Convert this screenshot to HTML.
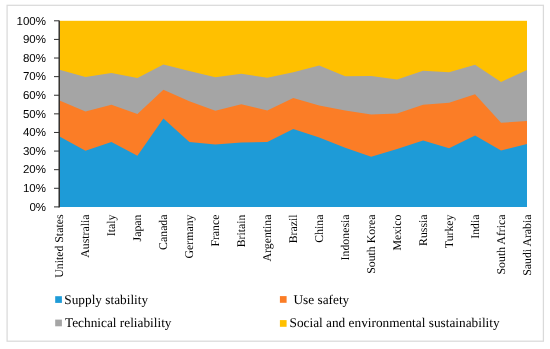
<!DOCTYPE html>
<html><head><meta charset="utf-8"><style>
html,body{margin:0;padding:0;background:#fff;width:550px;height:349px;overflow:hidden}
svg{display:block;will-change:transform}
text{text-rendering:geometricPrecision}
.ss{font-family:"Liberation Sans",sans-serif}
.sf{font-family:"Liberation Serif",serif}
</style></head><body>
<svg width="550" height="349" viewBox="0 0 550 349" xmlns="http://www.w3.org/2000/svg">
<rect x="7.1" y="5.3" width="536.3" height="335.9" fill="#fff" stroke="#DADADA" stroke-width="1.25"/>
<rect x="59.5" y="20.8" width="467.5" height="186.1" fill="#FFC000"/>
<polygon points="59.50,69.80 85.47,76.90 111.44,72.90 137.42,78.00 163.39,64.40 189.36,71.00 215.33,77.30 241.31,73.70 267.28,77.80 293.25,72.30 319.22,65.50 345.19,76.30 371.17,76.10 397.14,79.40 423.11,70.80 449.08,72.30 475.06,64.70 501.03,82.00 527.00,70.00 527,206.9 59.5,206.9" fill="#A5A5A5"/>
<polygon points="59.50,100.40 85.47,111.40 111.44,104.80 137.42,114.00 163.39,89.70 189.36,101.30 215.33,110.80 241.31,104.20 267.28,110.40 293.25,98.10 319.22,105.40 345.19,110.40 371.17,114.60 397.14,113.40 423.11,104.80 449.08,102.80 475.06,94.30 501.03,122.80 527.00,121.10 527,206.9 59.5,206.9" fill="#FB7D26"/>
<polygon points="59.50,136.50 85.47,150.70 111.44,142.00 137.42,155.80 163.39,118.60 189.36,142.00 215.33,144.60 241.31,142.60 267.28,142.10 293.25,128.90 319.22,137.50 345.19,147.70 371.17,156.80 397.14,149.10 423.11,140.50 449.08,148.30 475.06,135.40 501.03,150.50 527.00,144.00 527,206.9 59.5,206.9" fill="#1E9BD7"/>
<line x1="59.2" y1="20.5" x2="59.2" y2="207.4" stroke="#262626" stroke-width="1.4"/>
<line x1="54" y1="206.90" x2="59" y2="206.90" stroke="#303030" stroke-width="1"/>
<text x="46" y="210.60" text-anchor="end" class="ss" font-size="11.5" fill="#000">0%</text>
<line x1="54" y1="188.29" x2="59" y2="188.29" stroke="#303030" stroke-width="1"/>
<text x="46" y="191.99" text-anchor="end" class="ss" font-size="11.5" fill="#000">10%</text>
<line x1="54" y1="169.68" x2="59" y2="169.68" stroke="#303030" stroke-width="1"/>
<text x="46" y="173.38" text-anchor="end" class="ss" font-size="11.5" fill="#000">20%</text>
<line x1="54" y1="151.07" x2="59" y2="151.07" stroke="#303030" stroke-width="1"/>
<text x="46" y="154.77" text-anchor="end" class="ss" font-size="11.5" fill="#000">30%</text>
<line x1="54" y1="132.46" x2="59" y2="132.46" stroke="#303030" stroke-width="1"/>
<text x="46" y="136.16" text-anchor="end" class="ss" font-size="11.5" fill="#000">40%</text>
<line x1="54" y1="113.85" x2="59" y2="113.85" stroke="#303030" stroke-width="1"/>
<text x="46" y="117.55" text-anchor="end" class="ss" font-size="11.5" fill="#000">50%</text>
<line x1="54" y1="95.24" x2="59" y2="95.24" stroke="#303030" stroke-width="1"/>
<text x="46" y="98.94" text-anchor="end" class="ss" font-size="11.5" fill="#000">60%</text>
<line x1="54" y1="76.63" x2="59" y2="76.63" stroke="#303030" stroke-width="1"/>
<text x="46" y="80.33" text-anchor="end" class="ss" font-size="11.5" fill="#000">70%</text>
<line x1="54" y1="58.02" x2="59" y2="58.02" stroke="#303030" stroke-width="1"/>
<text x="46" y="61.72" text-anchor="end" class="ss" font-size="11.5" fill="#000">80%</text>
<line x1="54" y1="39.41" x2="59" y2="39.41" stroke="#303030" stroke-width="1"/>
<text x="46" y="43.11" text-anchor="end" class="ss" font-size="11.5" fill="#000">90%</text>
<line x1="54" y1="20.80" x2="59" y2="20.80" stroke="#303030" stroke-width="1"/>
<text x="46" y="24.50" text-anchor="end" class="ss" font-size="11.5" fill="#000">100%</text>
<text x="63.30" y="214.5" transform="rotate(-90 63.30 214.5)" text-anchor="end" class="sf" font-size="11.8" fill="#000">United States</text>
<text x="89.27" y="214.5" transform="rotate(-90 89.27 214.5)" text-anchor="end" class="sf" font-size="11.8" fill="#000">Australia</text>
<text x="115.24" y="214.5" transform="rotate(-90 115.24 214.5)" text-anchor="end" class="sf" font-size="11.8" fill="#000">Italy</text>
<text x="141.22" y="214.5" transform="rotate(-90 141.22 214.5)" text-anchor="end" class="sf" font-size="11.8" fill="#000">Japan</text>
<text x="167.19" y="214.5" transform="rotate(-90 167.19 214.5)" text-anchor="end" class="sf" font-size="11.8" fill="#000">Canada</text>
<text x="193.16" y="214.5" transform="rotate(-90 193.16 214.5)" text-anchor="end" class="sf" font-size="11.8" fill="#000">Germany</text>
<text x="219.13" y="214.5" transform="rotate(-90 219.13 214.5)" text-anchor="end" class="sf" font-size="11.8" fill="#000">France</text>
<text x="245.11" y="214.5" transform="rotate(-90 245.11 214.5)" text-anchor="end" class="sf" font-size="11.8" fill="#000">Britain</text>
<text x="271.08" y="214.5" transform="rotate(-90 271.08 214.5)" text-anchor="end" class="sf" font-size="11.8" fill="#000">Argentina</text>
<text x="297.05" y="214.5" transform="rotate(-90 297.05 214.5)" text-anchor="end" class="sf" font-size="11.8" fill="#000">Brazil</text>
<text x="323.02" y="214.5" transform="rotate(-90 323.02 214.5)" text-anchor="end" class="sf" font-size="11.8" fill="#000">China</text>
<text x="348.99" y="214.5" transform="rotate(-90 348.99 214.5)" text-anchor="end" class="sf" font-size="11.8" fill="#000">Indonesia</text>
<text x="374.97" y="214.5" transform="rotate(-90 374.97 214.5)" text-anchor="end" class="sf" font-size="11.8" fill="#000">South Korea</text>
<text x="400.94" y="214.5" transform="rotate(-90 400.94 214.5)" text-anchor="end" class="sf" font-size="11.8" fill="#000">Mexico</text>
<text x="426.91" y="214.5" transform="rotate(-90 426.91 214.5)" text-anchor="end" class="sf" font-size="11.8" fill="#000">Russia</text>
<text x="452.88" y="214.5" transform="rotate(-90 452.88 214.5)" text-anchor="end" class="sf" font-size="11.8" fill="#000">Turkey</text>
<text x="478.86" y="214.5" transform="rotate(-90 478.86 214.5)" text-anchor="end" class="sf" font-size="11.8" fill="#000">India</text>
<text x="504.83" y="214.5" transform="rotate(-90 504.83 214.5)" text-anchor="end" class="sf" font-size="11.8" fill="#000">South Africa</text>
<text x="530.80" y="214.5" transform="rotate(-90 530.80 214.5)" text-anchor="end" class="sf" font-size="11.8" fill="#000">Saudi Arabia</text>
<rect x="55.2" y="296.2" width="6.7" height="6.7" fill="#1E9BD7"/>
<text x="64.3" y="303.6" class="sf" font-size="13.3" fill="#000">Supply stability</text>
<rect x="279.9" y="296.1" width="6.7" height="6.7" fill="#FB7D26"/>
<text x="293.5" y="303.6" class="sf" font-size="13.3" fill="#000">Use safety</text>
<rect x="55.2" y="319.6" width="6.7" height="6.7" fill="#A5A5A5"/>
<text x="65.0" y="327.1" class="sf" font-size="13.3" fill="#000">Technical reliability</text>
<rect x="279.9" y="320.1" width="6.7" height="6.7" fill="#FFC000"/>
<text x="289.5" y="327.1" class="sf" font-size="13.3" fill="#000">Social and environmental sustainability</text>
</svg>
</body></html>
